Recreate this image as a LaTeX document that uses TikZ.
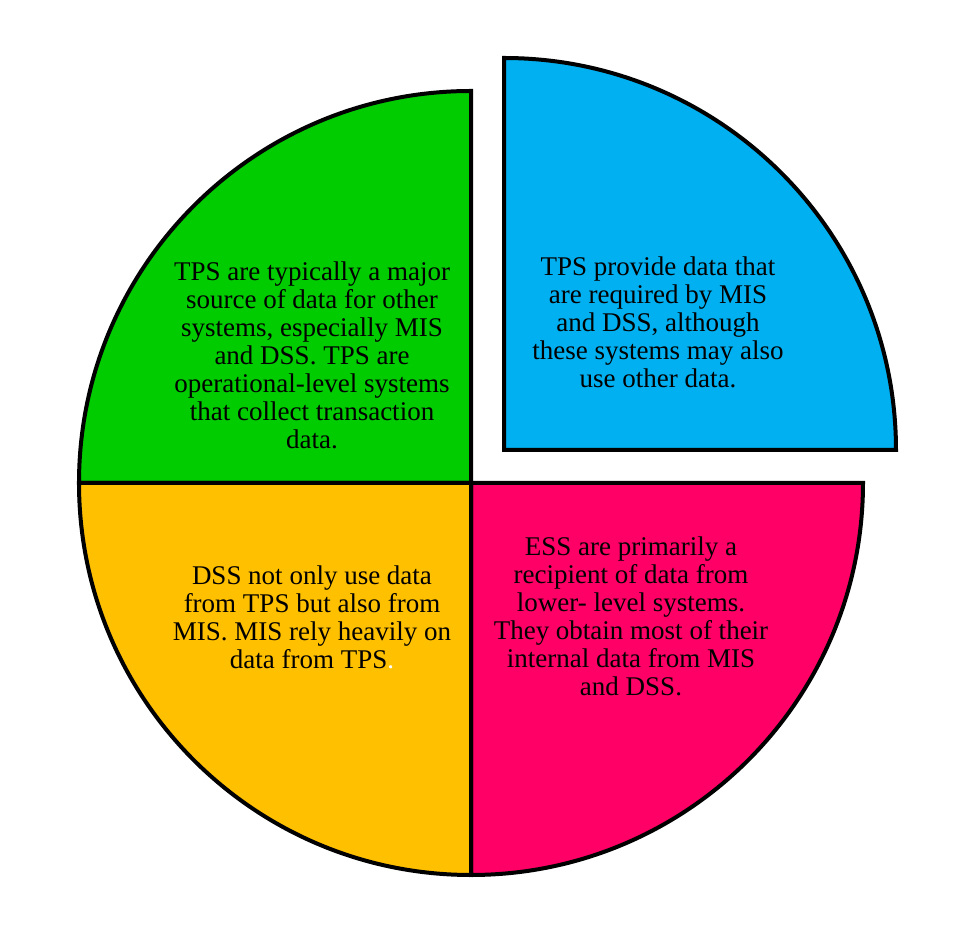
\documentclass[tikz,border=0pt]{standalone}
\usepackage{fontspec}
\setmainfont{Liberation Serif}
\usepackage{tikz}
\definecolor{tpsgreen}{RGB}{0,204,0}
\definecolor{tpsblue}{RGB}{0,176,240}
\definecolor{esspink}{RGB}{255,0,102}
\definecolor{dssgold}{RGB}{255,192,0}
\begin{document}
\begin{tikzpicture}[x=1pt,y=1pt]
			\tikzstyle{slice}=[draw=black,line width=4pt,line join=miter]
			\tikzstyle{every node}+=[inner sep=0pt,align=center,font=\fontsize{27}{28}\selectfont]
			\useasboundingbox (0,0) rectangle (975,934);
			\coordinate (o) at (471,451);
			\coordinate (ob) at (504,484);
			\draw [slice,fill=tpsgreen] (o) -- ++(0,392) arc (90:180:392) -- cycle;
			\draw [slice,fill=tpsblue] (ob) -- ++(0,392) arc (90:0:392) -- cycle;
			\draw [slice,fill=esspink] (o) -- ++(392,0) arc (0:-90:392) -- cycle;
			\draw [slice,fill=dssgold] (o) -- ++(0,-392) arc (270:180:392) -- cycle;
			\node (tps) at (312,578.5) {TPS are typically a major\\source of data for other\\systems, especially MIS\\and DSS. TPS are\\operational-level systems\\that collect transaction\\data.};
			\node (mis) at (658,611.5) {TPS provide data that\\are required by MIS\\and DSS, although\\these systems may also\\use other data.};
			\node (ess) at (631,317.5) {ESS are primarily a\\recipient of data from\\lower- level systems.\\They obtain most of their\\internal data from MIS\\and DSS.};
			\node (dss) at (312,317) {DSS not only use data\\from TPS but also from\\MIS. MIS rely heavily on\\data from TPS\textcolor{white}{.}};
\end{tikzpicture}
\end{document}
